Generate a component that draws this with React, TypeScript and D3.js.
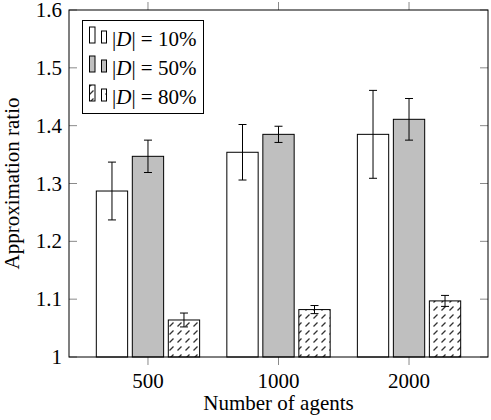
import React from "react";
import * as d3 from "d3";

const categories = ["500", "1000", "2000"];
const seriesPercents = ["10%", "50%", "80%"];
const values10 = [1.287, 1.354, 1.385];
const errors10 = [0.05, 0.048, 0.076];
const values50 = [1.347, 1.385, 1.411];
const errors50 = [0.028, 0.014, 0.036];
const values80 = [1.064, 1.082, 1.097];
const errors80 = [0.012, 0.007, 0.0095];
const yTicks = [1, 1.1, 1.2, 1.3, 1.4, 1.5, 1.6];
const yTickLabels = ["1", "1.1", "1.2", "1.3", "1.4", "1.5", "1.6"];
const xLabel = "Number of agents";
const yLabel = "Approximation ratio";

const W = 491;
const H = 420;
const left = 69;
const right = 488;
const top = 10;
const bottom = 357;

export default function App() {
  const x = d3.scalePoint().domain(categories).range([left, right]).padding(0.605);
  const inner = d3
    .scaleBand()
    .domain(seriesPercents)
    .range([-54, 54])
    .paddingInner(0.13)
    .paddingOuter(0.065);
  const y = d3.scaleLinear().domain([1, 1.6]).range([bottom, top]);

  const series = [
    { name: seriesPercents[0], values: values10, errors: errors10, fill: "#ffffff" },
    { name: seriesPercents[1], values: values50, errors: errors50, fill: "#bfbfbf" },
    { name: seriesPercents[2], values: values80, errors: errors80, fill: "url(#hatch)" },
  ];
  const bw = inner.bandwidth();
  const tickColor = "#8a8a8a";

  return (
    <svg
      width={W}
      height={H}
      style={{ position: "absolute", left: 0, top: 0, fontFamily: "Liberation Serif", fontSize: 21 }}
    >
      <defs>
        <pattern id="hatch" patternUnits="userSpaceOnUse" width={8} height={8}>
          <rect width={8} height={8} fill="#fff" />
          <line x1={1.5} y1={6.5} x2={5.5} y2={2.5} stroke="#333" strokeWidth={1.3} />
        </pattern>
      </defs>
      <rect width={W} height={H} fill="#fff" />
      {yTicks.map((t, i) => (
        <g key={"yt" + i}>
          <line x1={left} x2={left + 8} y1={y(t)} y2={y(t)} stroke={tickColor} />
          <line x1={right} x2={right - 8} y1={y(t)} y2={y(t)} stroke={tickColor} />
          <text x={62} y={y(t) + 7} textAnchor="end">
            {yTickLabels[i]}
          </text>
        </g>
      ))}
      {categories.map((c) => (
        <g key={"xt" + c}>
          <line x1={x(c)} x2={x(c)} y1={bottom} y2={bottom + 8} stroke={tickColor} />
          <line x1={x(c)} x2={x(c)} y1={top} y2={top - 8} stroke={tickColor} />
          <text x={x(c)} y={388} textAnchor="middle">
            {c}
          </text>
        </g>
      ))}
      {series.map((s) =>
        categories.map((c, i) => {
          const bx = (x(c) as number) + (inner(s.name) as number);
          const v = s.values[i];
          return (
            <rect
              key={s.name + c}
              x={bx}
              y={y(v)}
              width={bw}
              height={y(1) - y(v)}
              fill={s.fill}
              stroke="#000"
              strokeWidth={1}
            />
          );
        })
      )}
      {series.map((s) =>
        categories.map((c, i) => {
          const cx = (x(c) as number) + (inner(s.name) as number) + bw / 2;
          const v = s.values[i];
          const e = s.errors[i];
          return (
            <g key={"e" + s.name + c} stroke="#000" strokeWidth={1}>
              <line x1={cx} x2={cx} y1={y(v + e)} y2={y(v - e)} />
              <line x1={cx - 4} x2={cx + 4} y1={y(v + e)} y2={y(v + e)} />
              <line x1={cx - 4} x2={cx + 4} y1={y(v - e)} y2={y(v - e)} />
            </g>
          );
        })
      )}
      <rect x={left} y={top} width={right - left} height={bottom - top} fill="none" stroke="#000" strokeWidth={1} />
      <g>
        <rect x={82.5} y={20.5} width={121} height={93} fill="#fff" stroke="#000" strokeWidth={1} />
        {series.map((s, i) => {
          const cy = 39 + i * 29;
          return (
            <g key={"lg" + i}>
              <rect x={89.5} y={cy - 12} width={5.5} height={16} fill={s.fill} stroke="#000" strokeWidth={1} />
              <rect x={101.5} y={cy - 8} width={5} height={12} fill={s.fill} stroke="#000" strokeWidth={1} />
              <text x={112} y={cy + 7}>
                |<tspan fontStyle="italic">D</tspan>| = {s.name}
              </text>
            </g>
          );
        })}
      </g>
      <text x={(left + right) / 2} y={410} textAnchor="middle">
        {xLabel}
      </text>
      <text transform={`translate(19,${(top + bottom) / 2}) rotate(-90)`} textAnchor="middle">
        {yLabel}
      </text>
    </svg>
  );
}
